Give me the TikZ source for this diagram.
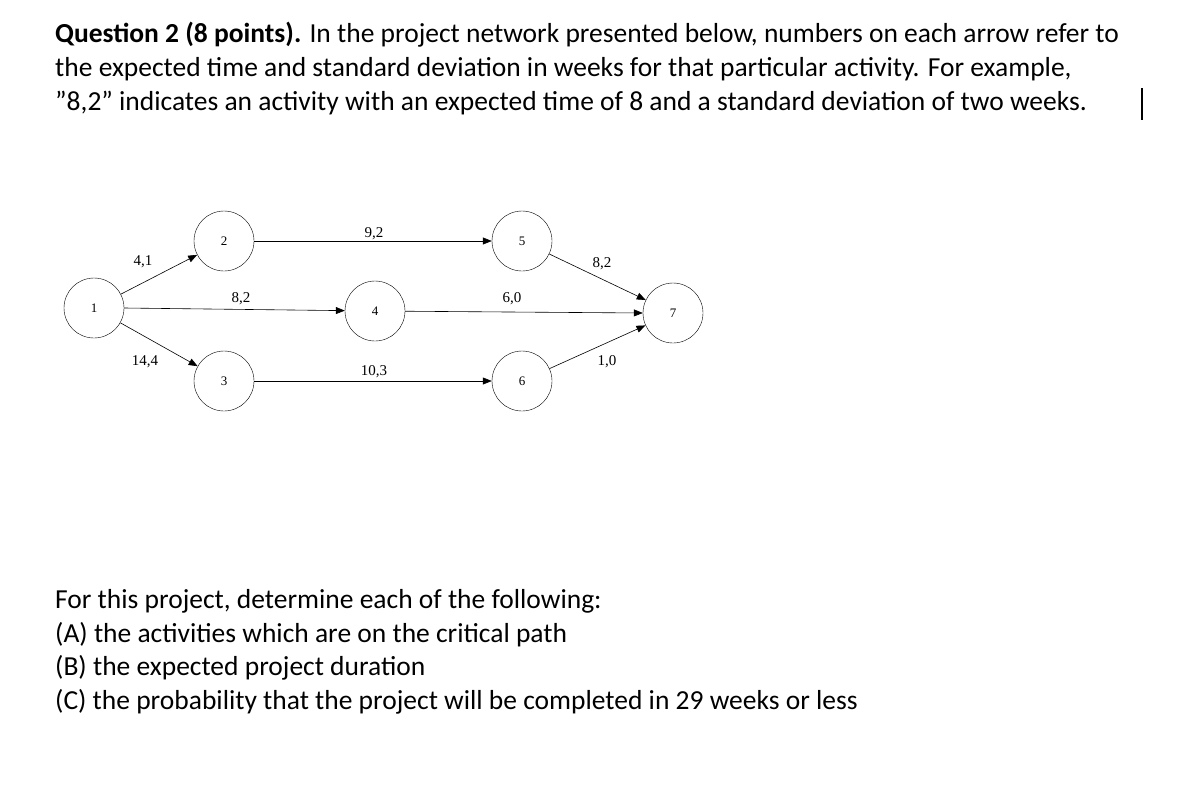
\documentclass[tikz,border=0pt]{standalone}
\usepackage{fontspec}
\setmainfont{Carlito}
\newfontfamily\tnr{Liberation Serif}
\usetikzlibrary{arrows.meta}
\begin{document}
\begin{tikzpicture}[x=1pt,y=-1pt,
  ev/.style={draw,circle,minimum size=60pt,inner sep=0pt,font=\tnr\fontsize{13}{13}\selectfont},
  act/.style={draw,-{Triangle[length=9pt,width=7pt]},line width=0.6pt},
  lab/.style={font=\tnr\fontsize{15}{15}\selectfont},
  txt/.style={anchor=west,font=\fontsize{27.5}{30}\selectfont,inner sep=0pt}]
\useasboundingbox (0,0) rectangle (1198,784);
\node[txt] (q1) at (55,35) {\textbf{Question 2 (8 points).} In the project network presented below, numbers on each arrow refer to};
\node[txt] (q2) at (55,69) {the expected time and standard deviation in weeks for that particular activity. For example,};
\node[txt] (q3) at (55,103) {\symbol{"22}8,2\symbol{"22} indicates an activity with an expected time of 8 and a standard deviation of two weeks.};
\draw[line width=1.2pt] (1142,88) -- (1142,120);
\node[ev] (n1) at (94,308) {1};
\node[ev] (n2) at (224,241) {2};
\node[ev] (n4) at (375,311) {4};
\node[ev] (n5) at (522,241) {5};
\node[ev] (n7) at (673,313) {7};
\node[ev] (n3) at (224,381) {3};
\node[ev] (n6) at (522,381) {6};
\draw[act] (n1) -- (n2);
\draw[act] (n1.east) -- (n4);
\draw[act] (n1) -- (n3);
\draw[act] (n2) -- (n5);
\draw[act] (n4) -- (n7.west);
\draw[act] (n3) -- (n6);
\draw[act] (n5) -- (n7);
\draw[act] (n6) -- (n7);
\node[lab] (l1) at (143,262) {4,1};
\node[lab] (l2) at (145,362) {14,4};
\node[lab] (l3) at (241,299) {8,2};
\node[lab] (l4) at (374,234) {9,2};
\node[lab] (l5) at (512,299) {6,0};
\node[lab] (l6) at (374,372) {10,3};
\node[lab] (l7) at (602,264) {8,2};
\node[lab] (l8) at (607,362) {1,0};
\node[txt] (b1) at (55,601) {For this project, determine each of the following:};
\node[txt] (b2) at (55,635) {(A) the activities which are on the critical path};
\node[txt] (b3) at (55,668) {(B) the expected project duration};
\node[txt] (b4) at (55,702) {(C) the probability that the project will be completed in 29 weeks or less};
\end{tikzpicture}
\end{document}
